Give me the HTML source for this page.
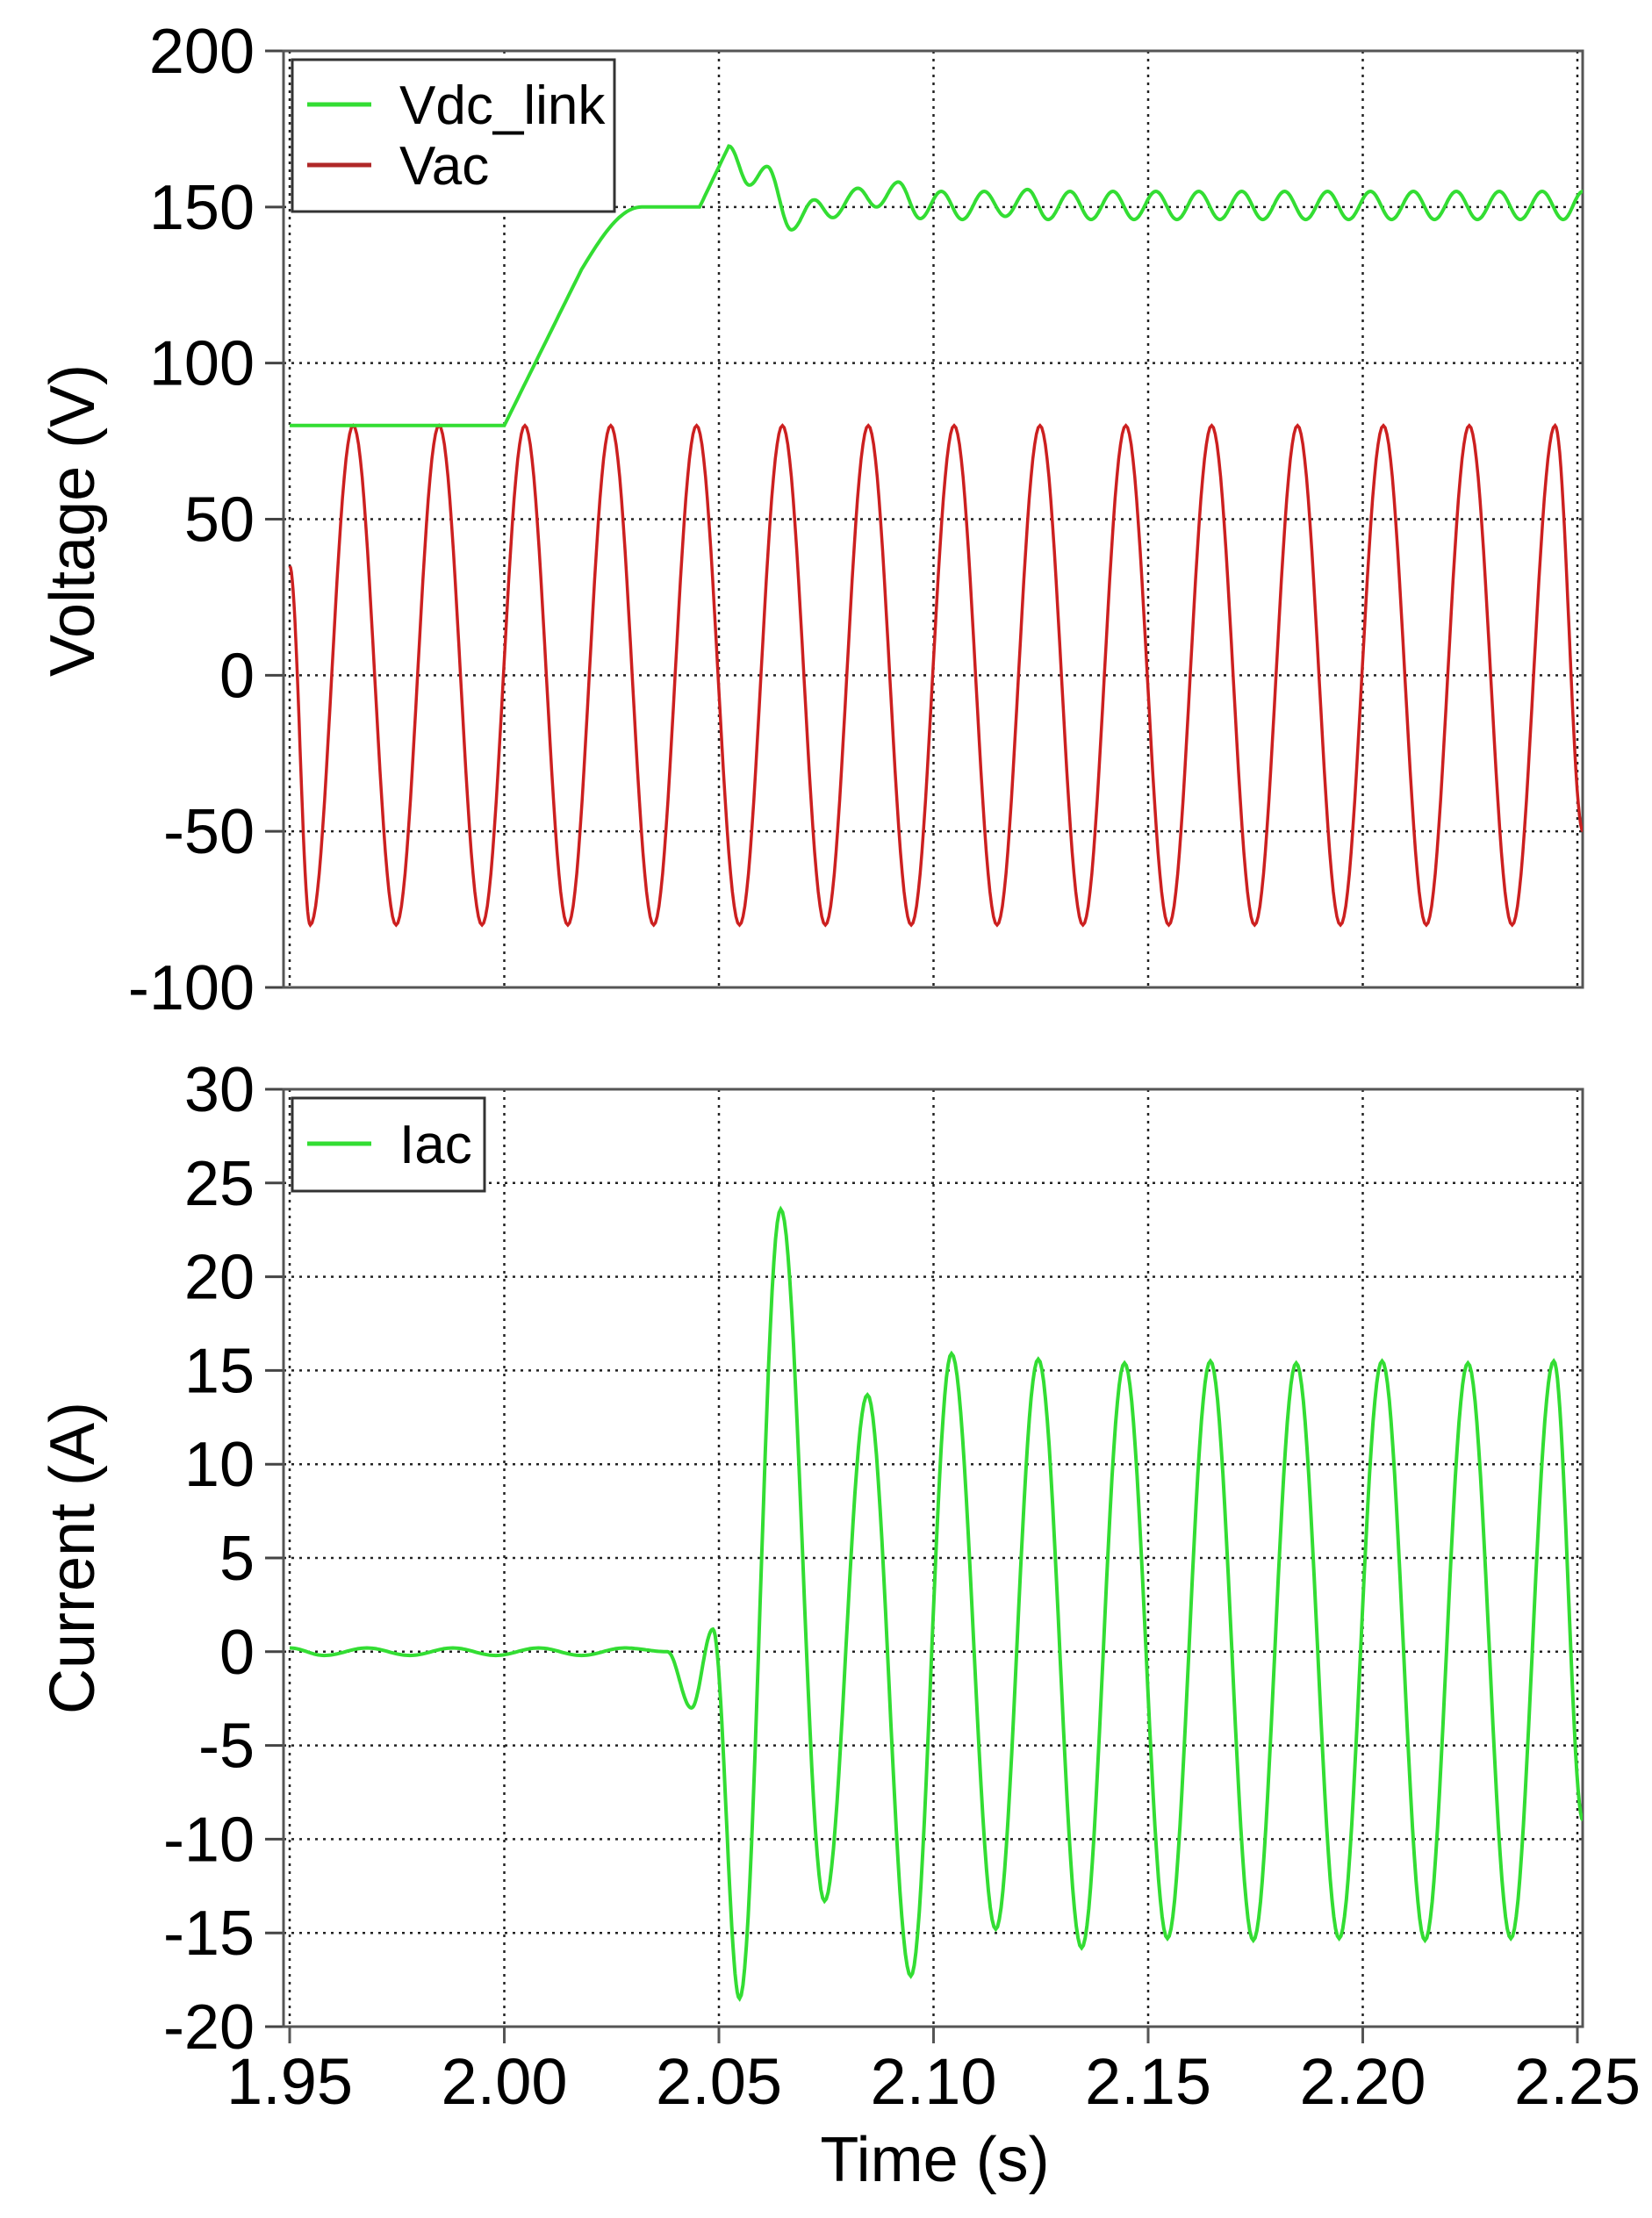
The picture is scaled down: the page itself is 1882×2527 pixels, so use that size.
<!DOCTYPE html>
<html><head><meta charset="utf-8"><style>
html,body{margin:0;padding:0;background:#fff;}
svg{display:block;font-family:"Liberation Sans",Arial,sans-serif;}
</style></head><body>
<svg id="chart" width="1882" height="2527" viewBox="0 0 1882 2527" xmlns="http://www.w3.org/2000/svg">
<g id="gtop"></g>
<g id="gbot"></g>
<g id="xt"></g>
<text x="1065" y="2485" font-size="72" text-anchor="middle">Time (s)</text>
<text transform="translate(107,593) rotate(-90)" font-size="72" text-anchor="middle">Voltage (V)</text>
<text transform="translate(107,1775) rotate(-90)" font-size="72" text-anchor="middle">Current (A)</text>
</svg>
<script>
// x axis
const xTicks = [1.95, 2.00, 2.05, 2.10, 2.15, 2.20, 2.25];
const xTickLabels = ["1.95","2.00","2.05","2.10","2.15","2.20","2.25"];
// voltage axis
const vTicks = [200,150,100,50,0,-50,-100];
// current axis
const iTicks = [30,25,20,15,10,5,0,-5,-10,-15,-20];
// Vac extrema (time, value)
const vacT = [1.950,1.9548,1.9648,1.9748,1.9848,1.9948,2.0048,2.0148,2.0248,2.0348,2.0448,2.0548,2.0648,2.0748,2.0848,2.0948,2.1048,2.1148,2.1248,2.1348,2.1448,2.1548,2.1648,2.1748,2.1848,2.1948,2.2048,2.2148,2.2248,2.2348,2.2448,2.2513];
const vacV = [35,-80,80,-80,80,-80,80,-80,80,-80,80,-80,80,-80,80,-80,80,-80,80,-80,80,-80,80,-80,80,-80,80,-80,80,-80,80,-50];
// Vdc_link key points (time, value)
const vdcT = [1.950,2.000,2.018,2.032,2.0455,2.0523,2.0571,2.0612,2.0669,2.0722,2.0765,2.0824,2.0867,2.0918,2.0969,2.1018,2.1067,2.1118,2.1167,2.1219,2.1267,2.1318,2.1367,2.1418,2.1467,2.1518,2.1567,2.1618,2.1667,2.1718,2.1767,2.1818,2.1867,2.1918,2.1967,2.2018,2.2067,2.2118,2.2167,2.2218,2.2267,2.2318,2.2367,2.2418,2.2467,2.2513];
const vdcV = [80,80,130,150,150,169.5,157,163,142.7,152.3,146.6,156,150,158,146.3,155,146,155,147,155.6,146,155,146,155,146,155,146,155,146,155,146,155,146,155,146,155,146,155,146,155,146,155,146,155,146,155];
// segment shapes for Vdc_link (segment ending at index i)
const vdcShape = ['lin','lin','lin','out','lin','lin'];
// Iac key points (time, value)
const iacT = [1.950,1.958,1.968,1.978,1.988,1.998,2.008,2.018,2.028,2.038,2.0436,2.0486,2.0548,2.0644,2.0746,2.0846,2.0947,2.1042,2.1145,2.1244,2.1345,2.1445,2.1545,2.1645,2.1745,2.1845,2.1945,2.2045,2.2145,2.2245,2.2345,2.2445,2.2513];
const iacA = [0.2,-0.2,0.2,-0.2,0.2,-0.2,0.2,-0.2,0.2,0.0,-3.0,1.2,-18.5,23.6,-13.3,13.7,-17.3,15.9,-14.8,15.6,-15.8,15.4,-15.3,15.5,-15.4,15.4,-15.3,15.5,-15.4,15.4,-15.3,15.5,-9];

const NS="http://www.w3.org/2000/svg";
const XL=330, XR=1797, FL=323, FR=1803;
const sx = t => XL + (t-1.95)/0.30*(XR-XL);
const pTop={t:58,b:1125,max:200,min:-100};
const pBot={t:1241,b:2309,max:30,min:-20};
const sy=(p,v)=>p.t+(p.max-v)/(p.max-p.min)*(p.b-p.t);
function mk(tag,attrs,parent){const e=document.createElementNS(NS,tag);for(const k in attrs)e.setAttribute(k,attrs[k]);parent.appendChild(e);return e;}
function curve(T,V,p,shape){
  let d=`M${sx(T[0]).toFixed(1)},${sy(p,V[0]).toFixed(1)}`;
  for(let i=1;i<T.length;i++){
    const n=24, s=(shape&&shape[i])||'cos';
    for(let k=1;k<=n;k++){
      const f=k/n;
      let e;
      if(s==='lin') e=f;
      else if(s==='out') e=Math.sin(Math.PI/2*f);
      else e=(1-Math.cos(Math.PI*f))/2;
      const t=T[i-1]+(T[i]-T[i-1])*f, v=V[i-1]+(V[i]-V[i-1])*e;
      d+=`L${sx(t).toFixed(1)},${sy(p,v).toFixed(1)}`;
    }
  }
  return d;
}
function panel(g,p,ticks,name){
  mk('rect',{x:FL,y:p.t,width:FR-FL,height:p.b-p.t,fill:'#fff'},g);
  ticks.forEach(v=>{
    const y=sy(p,v);
    const gl=mk('line',{x1:FL,x2:FR,y1:y,y2:y,stroke:'#222','stroke-width':2.5,'stroke-dasharray':'3 6'},g);
    
    
    mk('line',{x1:302,x2:FL,y1:y,y2:y,stroke:'#444','stroke-width':3},g);
    const tx=mk('text',{x:290,y:y+25,'font-size':72,'text-anchor':'end'},g);
    tx.textContent=String(v);
    
    
  });
  xTicks.forEach(t=>{
    const x=sx(t);
    const gl=mk('line',{x1:x,x2:x,y1:p.t,y2:p.b,stroke:'#222','stroke-width':2.5,'stroke-dasharray':'3 6'},g);
    
    
  });
  mk('path',{d:`M${FL},${p.t}H${FR}V${p.b}H${FL}Z`,fill:'none',stroke:'#555','stroke-width':3},g);
}
const gT=document.getElementById('gtop'), gB=document.getElementById('gbot'), gX=document.getElementById('xt');
panel(gT,pTop,vTicks,'voltage');
panel(gB,pBot,iTicks,'current');
const cT=mk('clipPath',{id:'ct'},gT); mk('rect',{x:FL,y:pTop.t,width:FR-FL,height:pTop.b-pTop.t},cT);
const cB=mk('clipPath',{id:'cb'},gB); mk('rect',{x:FL,y:pBot.t,width:FR-FL,height:pBot.b-pBot.t},cB);
const vac=mk('path',{d:curve(vacT,vacV,pTop),fill:'none',stroke:'#cc2020','stroke-width':3.5,'clip-path':'url(#ct)'},gT);


const vdc=mk('path',{d:curve(vdcT,vdcV,pTop,vdcShape),fill:'none',stroke:'#33dd33','stroke-width':4,'clip-path':'url(#ct)'},gT);


const iac=mk('path',{d:curve(iacT,iacA,pBot),fill:'none',stroke:'#33dd33','stroke-width':4,'clip-path':'url(#cb)'},gB);


const lg1=mk('g',{},gT);


mk('rect',{x:333,y:68,width:367,height:173,fill:'#fff',stroke:'#333','stroke-width':3},lg1);
mk('line',{x1:350,x2:423,y1:119,y2:119,stroke:'#33dd33','stroke-width':5},lg1);
mk('line',{x1:350,x2:423,y1:188,y2:188,stroke:'#b02828','stroke-width':5},lg1);
const t1=mk('text',{x:455,y:141,'font-size':62},lg1); t1.textContent='Vdc_link';


const t2=mk('text',{x:455,y:210,'font-size':62},lg1); t2.textContent='Vac';


const lg2=mk('g',{},gB);


mk('rect',{x:333,y:1251,width:219,height:106,fill:'#fff',stroke:'#333','stroke-width':3},lg2);
mk('line',{x1:350,x2:423,y1:1303,y2:1303,stroke:'#33dd33','stroke-width':5},lg2);
const t3=mk('text',{x:455,y:1325,'font-size':62},lg2); t3.textContent='Iac';


xTicks.forEach((t,i)=>{
  const x=sx(t);
  mk('line',{x1:x,x2:x,y1:pBot.b,y2:2328,stroke:'#555','stroke-width':3},gX);
  const tx=mk('text',{x:x,y:2397,'font-size':74,'text-anchor':'middle'},gX);
  tx.textContent=xTickLabels[i];
  
  
});
</script>
</body></html>
